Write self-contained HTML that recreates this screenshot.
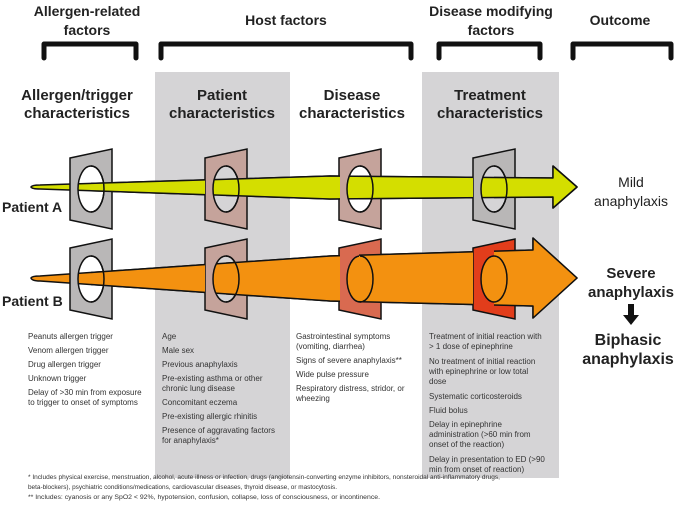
<!DOCTYPE html>
<html><head><meta charset="utf-8"><style>
html,body{margin:0;padding:0;background:#fff;}
svg{display:block;font-family:"Liberation Sans",Arial,sans-serif;}
.h{font-weight:bold;font-size:14px;fill:#222;text-anchor:middle;}
.s{font-weight:bold;font-size:15px;fill:#222;text-anchor:middle;}
.t{font-size:8px;fill:#333;}
.f{font-size:6.3px;fill:#333;}
</style></head><body>
<svg width="685" height="506" viewBox="0 0 685 506" xmlns="http://www.w3.org/2000/svg">
<defs>
<clipPath id="cA">
<rect x="91" y="0" width="114" height="506"/><rect x="226" y="0" width="114" height="506"/>
<rect x="359" y="0" width="114" height="506"/><rect x="494" y="0" width="200" height="506"/>
</clipPath>
</defs>
<rect x="155" y="72" width="135" height="406" fill="#d5d4d6"/>
<rect x="422" y="72" width="137" height="406" fill="#d5d4d6"/>
<text class="h" x="87" y="16">Allergen-related</text>
<text class="h" x="87" y="35">factors</text>
<text class="h" x="286" y="25">Host factors</text>
<text class="h" x="491" y="16">Disease modifying</text>
<text class="h" x="491" y="35">factors</text>
<text class="h" x="620" y="25">Outcome</text>
<g fill="none" stroke="#111" stroke-width="5" stroke-linejoin="round" stroke-linecap="round">
<path d="M44,58 V44 H136 V58"/>
<path d="M161,58 V44 H411 V58"/>
<path d="M439,58 V44 H540 V58"/>
<path d="M573,58 V44 H671 V58"/>
</g>
<text class="s" x="77" y="100">Allergen/trigger</text>
<text class="s" x="77" y="118">characteristics</text>
<text class="s" x="222" y="100">Patient</text>
<text class="s" x="222" y="118">characteristics</text>
<text class="s" x="352" y="100">Disease</text>
<text class="s" x="352" y="118">characteristics</text>
<text class="s" x="490" y="100">Treatment</text>
<text class="s" x="490" y="118">characteristics</text>

<path d="M31,187 Q32,185 40,185 L330,176 L553,178 L553,166 L577,187 L553,208 L553,197 L330,199 L40,189 Q32,189 31,187 Z" fill="#d4de00" stroke="#111" stroke-width="1.5" stroke-linejoin="round"/>
<path d="M31,278 Q32,276 40,276 L330,256 L533,250 L533,238 L577,278 L533,318 L533,306 L330,301 L40,281 Q32,281 31,278 Z" fill="#f39110" stroke="#111" stroke-width="1.5" stroke-linejoin="round"/>

<g stroke="#111" stroke-width="1.5" fill-rule="evenodd">
<path d="M70,158 L112,149 L112,229 L70,220 Z M78,189 a13,23 0 1,0 26,0 a13,23 0 1,0 -26,0 Z" fill="#b9b7b7"/>
<path d="M205,158 L247,149 L247,229 L205,220 Z M213,189 a13,23 0 1,0 26,0 a13,23 0 1,0 -26,0 Z" fill="#c5a39b"/>
<path d="M339,158 L381,149 L381,229 L339,220 Z M347,189 a13,23 0 1,0 26,0 a13,23 0 1,0 -26,0 Z" fill="#c5a39b"/>
<path d="M473,158 L515,149 L515,229 L473,220 Z M481,189 a13,23 0 1,0 26,0 a13,23 0 1,0 -26,0 Z" fill="#b9b7b7"/>
<path d="M70,248 L112,239 L112,319 L70,310 Z M78,279 a13,23 0 1,0 26,0 a13,23 0 1,0 -26,0 Z" fill="#b9b7b7"/>
<path d="M205,248 L247,239 L247,319 L205,310 Z M213,279 a13,23 0 1,0 26,0 a13,23 0 1,0 -26,0 Z" fill="#c5a39b"/>
<path d="M339,248 L381,239 L381,319 L339,310 Z M347,279 a13,23 0 1,0 26,0 a13,23 0 1,0 -26,0 Z" fill="#d96a50"/>
<path d="M473,248 L515,239 L515,319 L473,310 Z M481,279 a13,23 0 1,0 26,0 a13,23 0 1,0 -26,0 Z" fill="#e23d1b"/>
</g>
<g clip-path="url(#cA)">
<path d="M31,187 Q32,185 40,185 L330,176 L553,178 L553,166 L577,187 L553,208 L553,197 L330,199 L40,189 Q32,189 31,187 Z" fill="#d4de00" stroke="#111" stroke-width="1.5" stroke-linejoin="round"/>
<path d="M31,278 Q32,276 40,276 L330,256 L533,250 L533,238 L577,278 L533,318 L533,306 L330,301 L40,281 Q32,281 31,278 Z" fill="#f39110" stroke="#111" stroke-width="1.5" stroke-linejoin="round"/>
</g>
<g fill="none" stroke="#111" stroke-width="1.5">
<path d="M91,166 a13,23 0 0,1 0,46"/><path d="M226,166 a13,23 0 0,1 0,46"/>
<path d="M360,166 a13,23 0 0,1 0,46"/><path d="M494,166 a13,23 0 0,1 0,46"/>
<path d="M91,256 a13,23 0 0,1 0,46"/><path d="M226,256 a13,23 0 0,1 0,46"/>
<path d="M360,256 a13,23 0 0,1 0,46"/><path d="M494,256 a13,23 0 0,1 0,46"/>
</g>

<text x="2" y="212" style="font-weight:bold;font-size:14px;fill:#222">Patient A</text>
<text x="2" y="306" style="font-weight:bold;font-size:14px;fill:#222">Patient B</text>

<text x="631" y="187" style="font-size:14px;fill:#222;text-anchor:middle">Mild</text>
<text x="631" y="206" style="font-size:14px;fill:#222;text-anchor:middle">anaphylaxis</text>
<text x="631" y="278" style="font-size:15px;font-weight:bold;fill:#222;text-anchor:middle">Severe</text>
<text x="631" y="297" style="font-size:15px;font-weight:bold;fill:#222;text-anchor:middle">anaphylaxis</text>
<path d="M628,304 H634 V315 H639 L631,325 L623,315 H628 Z" fill="#111"/>
<text x="628" y="345" style="font-size:16px;font-weight:bold;fill:#222;text-anchor:middle">Biphasic</text>
<text x="628" y="364" style="font-size:16px;font-weight:bold;fill:#222;text-anchor:middle">anaphylaxis</text>

<g class="t">
<text x="28" y="339">Peanuts allergen trigger</text>
<text x="28" y="353">Venom allergen trigger</text>
<text x="28" y="367">Drug allergen trigger</text>
<text x="28" y="381">Unknown trigger</text>
<text x="28" y="395">Delay of &gt;30 min from exposure</text>
<text x="28" y="405">to trigger to onset of symptoms</text>

<text x="162" y="339">Age</text>
<text x="162" y="353">Male sex</text>
<text x="162" y="367">Previous anaphylaxis</text>
<text x="162" y="381">Pre-existing asthma or other</text>
<text x="162" y="391">chronic lung disease</text>
<text x="162" y="405">Concomitant eczema</text>
<text x="162" y="419">Pre-existing allergic rhinitis</text>
<text x="162" y="433">Presence of aggravating factors</text>
<text x="162" y="443">for anaphylaxis*</text>

<text x="296" y="339">Gastrointestinal symptoms</text>
<text x="296" y="349">(vomiting, diarrhea)</text>
<text x="296" y="363">Signs of severe anaphylaxis**</text>
<text x="296" y="377">Wide pulse pressure</text>
<text x="296" y="391">Respiratory distress, stridor, or</text>
<text x="296" y="401">wheezing</text>

<text x="429" y="339">Treatment of initial reaction with</text>
<text x="429" y="349">&gt; 1 dose of epinephrine</text>
<text x="429" y="364">No treatment of initial reaction</text>
<text x="429" y="374">with epinephrine or low total</text>
<text x="429" y="384">dose</text>
<text x="429" y="399">Systematic corticosteroids</text>
<text x="429" y="413">Fluid bolus</text>
<text x="429" y="427">Delay in epinephrine</text>
<text x="429" y="437">administration (&gt;60 min from</text>
<text x="429" y="447">onset of the reaction)</text>
<text x="429" y="462">Delay in presentation to ED (&gt;90</text>
<text x="429" y="472">min from onset of reaction)</text>
</g>
<g class="f">
<text x="28" y="479" textLength="472" lengthAdjust="spacingAndGlyphs">* Includes physical exercise, menstruation, alcohol, acute illness or infection, drugs (angiotensin-converting enzyme inhibitors, nonsteroidal anti-inflammatory drugs,</text>
<text x="28" y="489" textLength="309" lengthAdjust="spacingAndGlyphs">beta-blockers), psychiatric conditions/medications, cardiovascular diseases, thyroid disease, or mastocytosis.</text>
<text x="28" y="499" textLength="352" lengthAdjust="spacingAndGlyphs">** Includes: cyanosis or any SpO2 &lt; 92%, hypotension, confusion, collapse, loss of consciousness, or incontinence.</text>
</g>
</svg>
</body></html>
